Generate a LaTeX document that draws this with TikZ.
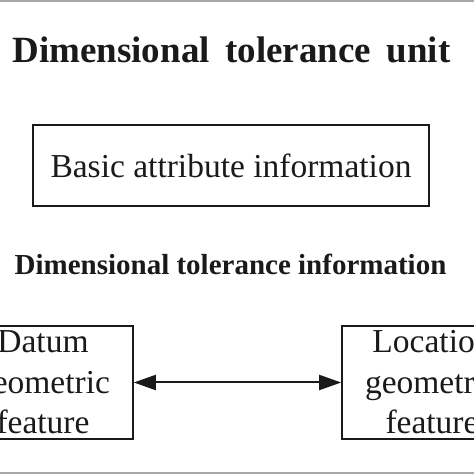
\documentclass[tikz,border=0pt]{standalone}
\usepackage{fontspec}
\setmainfont{Liberation Serif}
\usetikzlibrary{arrows.meta}
\definecolor{ink}{HTML}{1A1A1A}
\tikzset{
  box/.style={draw=ink, line width=1.6pt, inner sep=0pt, text=ink},
  featbox/.style={box, minimum width=180pt, minimum height=113pt, align=center,
    font=\fontsize{33.5}{40.5}\selectfont},
  link/.style={draw=ink, line width=2pt, {Triangle[length=22pt,width=15pt]}-{Triangle[length=22pt,width=15pt]}},
  edge/.style={fill=gray!70}
}
\begin{document}
\begin{tikzpicture}[x=1pt,y=1pt]
\useasboundingbox (0,0) rectangle (474,474);
\clip (0,0) rectangle (474,474);
\fill[edge] (0,472) rectangle (474,474);
\fill[edge] (0,0) rectangle (474,2);
\node[anchor=base, text=ink, font=\fontsize{37}{40}\selectfont\bfseries] (title) at (231.5,411)
  {Dimensional\hspace{0.42em}tolerance\hspace{0.42em}unit};
\node[box, minimum width=396pt, minimum height=81pt, font=\fontsize{33.5}{40}\selectfont] (basic) at (231,308.5)
  {Basic attribute information};
\node[anchor=base, text=ink, font=\fontsize{29}{34}\selectfont\bfseries] (dti) at (230.5,199)
  {Dimensional tolerance information};
\node[featbox] (datum) at (43,91.5) {Datum\\geometric\\feature};
\node[featbox] (loc) at (432,91.5) {Location\\geometric\\feature};
\draw[link] (datum.east) -- (loc.west);
\end{tikzpicture}
\end{document}
